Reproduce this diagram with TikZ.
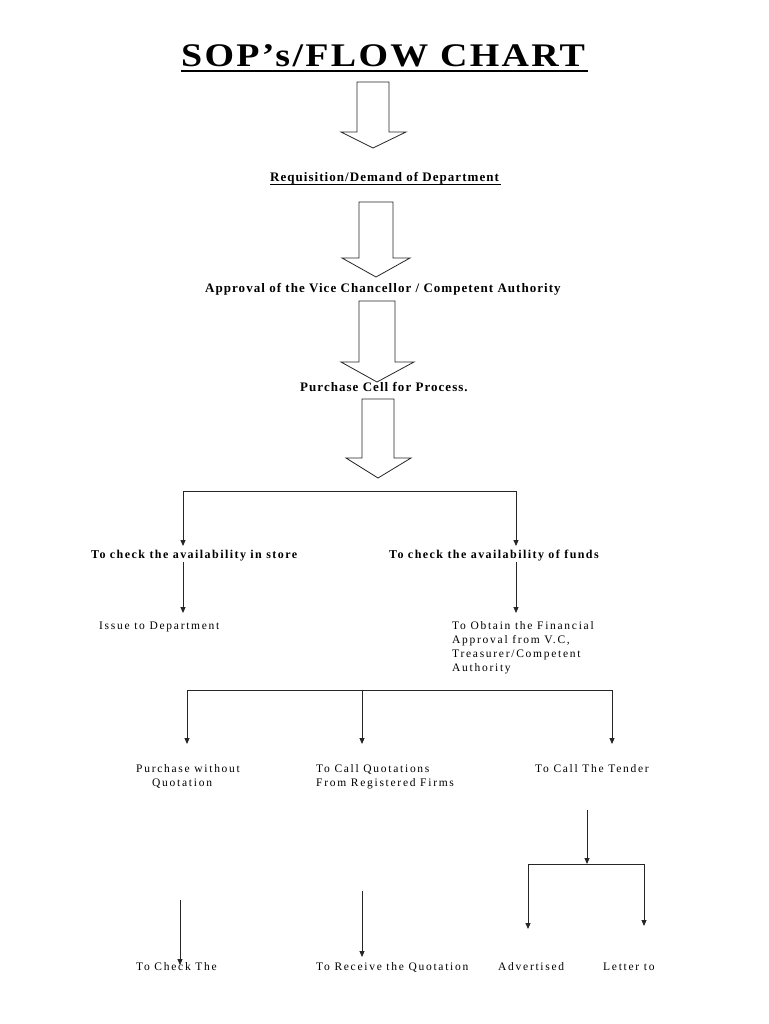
\documentclass[tikz,border=0pt]{standalone}
\usepackage{fontspec}
\setmainfont{Liberation Serif}
\newfontfamily\sopbody{Liberation Serif}[LetterSpace=15]
\newfontfamily\sopbold{Liberation Serif}[LetterSpace=12]
\newfontfamily\sopcenter{Liberation Serif}[LetterSpace=8]
\newfontfamily\soptitle{Liberation Serif}[FakeStretch=1.15,LetterSpace=7]
\usetikzlibrary{arrows.meta}
\newcommand\soplines[1]{\begin{tabular}[t]{@{}l@{}}#1\end{tabular}}
\begin{document}
\begin{tikzpicture}[x=1pt,y=-1pt,
  txt/.style={inner sep=0pt, anchor=base west, font=\sopbody\fontsize{11.5}{14}\selectfont},
  btxt/.style={inner sep=0pt, anchor=base west, font=\sopbold\bfseries\fontsize{12}{14}\selectfont},
  ctxt/.style={inner sep=0pt, anchor=base west, font=\sopcenter\bfseries\fontsize{13}{15}\selectfont},
  ttxt/.style={inner sep=0pt, anchor=base west, font=\soptitle\bfseries\fontsize{33}{36}\selectfont},
  blk/.style={draw=black!85, line width=0.8pt, fill=white},
  ln/.style={draw=black!85, line width=0.9pt},
  arr/.style={ln, -{Triangle[length=6pt,width=5pt]}}]
\useasboundingbox[fill=white] (0,0) rectangle (768,1024);

% title and main line
\node[ttxt] (title) at (181,66.5) {SOP’s/FLOW CHART};
\draw[line width=1.8pt] ([yshift=-4.5pt]title.base west) -- ([yshift=-4.5pt,xshift=3pt]title.base east);

\node[ctxt] (req) at (270,181.5) {Requisition/Demand of Department};
\draw[line width=0.8pt] ([yshift=-2.5pt]req.base west) -- ([yshift=-2.5pt,xshift=2pt]req.base east);
\node[ctxt] (appr) at (205,292) {Approval of the Vice Chancellor / Competent Authority};
\node[ctxt] (cell) at (300,391) {Purchase Cell for Process.};

% block arrows
\draw[blk] (357,82) -- (389,82) -- (389,132) -- (406,132) -- (373,148) -- (341,132) -- (357,132) -- cycle;
\draw[blk] (359,202) -- (393,202) -- (393,258) -- (410,258) -- (376,277) -- (342,258) -- (359,258) -- cycle;
\draw[blk] (359,301) -- (395,301) -- (395,362) -- (414,362) -- (377,382) -- (341,362) -- (359,362) -- cycle;
\draw[blk] (362,399) -- (394,399) -- (394,458) -- (411,458) -- (378,478) -- (346,458) -- (362,458) -- cycle;

% first branch
\node[btxt] (store) at (91,558) {To check the availability in store};
\node[btxt] (funds) at (389,558) {To check the availability of funds};
\node[txt] (issue) at (99,629) {Issue to Department};
\node[txt] (obtain) at (452,629) {\soplines{To Obtain the Financial\\Approval from V.C,\\Treasurer/Competent\\Authority}};

\coordinate (jA) at (183,491);
\coordinate (jB) at (516,491);
\coordinate (tA) at (183,546);
\coordinate (tB) at (516,546);
\coordinate (sA) at (183,562);
\coordinate (sB) at (516,562);
\coordinate (uA) at (183,613);
\coordinate (uB) at (516,613);
\draw[ln] (jA) -- (jB);
\draw[arr] (jA) -- (tA);
\draw[arr] (jB) -- (tB);
\draw[arr] (sA) -- (uA);
\draw[arr] (sB) -- (uB);

% second branch
\node[txt] (pwq) at (136,772) {\soplines{Purchase without\\\hspace*{16pt}Quotation}};
\node[txt] (quot) at (316,772) {\soplines{To Call Quotations\\From Registered Firms}};
\node[txt] (tender) at (535,772) {To Call The Tender};

\coordinate (kA) at (187,690);
\coordinate (kB) at (362,690);
\coordinate (kC) at (612,690);
\coordinate (vA) at (187,744);
\coordinate (vB) at (362,744);
\coordinate (vC) at (612,744);
\draw[ln] (kA) -- (kC);
\draw[arr] (kA) -- (vA);
\draw[arr] (kB) -- (vB);
\draw[arr] (kC) -- (vC);

% tender branch
\coordinate (wT) at (587,810);
\coordinate (wJ) at (587,864);
\coordinate (wL) at (528,864);
\coordinate (wR) at (644,864);
\coordinate (wLe) at (528,929);
\coordinate (wRe) at (644,926);
\draw[arr] (wT) -- (wJ);
\draw[ln] (wL) -- (wR);
\draw[arr] (wL) -- (wLe);
\draw[arr] (wR) -- (wRe);

% bottom row
\node[txt] (check) at (136,970) {To Check The};
\node[txt] (recv) at (316,970) {To Receive the Quotation};
\node[txt] (adv) at (498,970) {Advertised};
\node[txt] (letter) at (603,970) {Letter to};

\coordinate (xA) at (180,900);
\coordinate (xAe) at (180,965);
\coordinate (xB) at (362,891);
\coordinate (xBe) at (362,957);
\draw[arr] (xA) -- (xAe);
\draw[arr] (xB) -- (xBe);
\end{tikzpicture}
\end{document}
